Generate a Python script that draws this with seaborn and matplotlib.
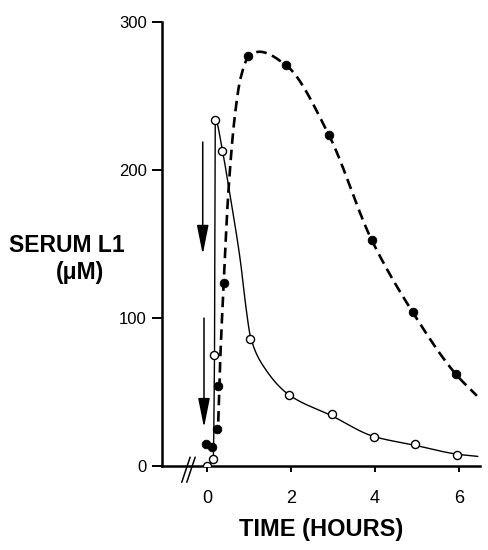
import numpy as np
import pandas as pd
import matplotlib
matplotlib.use("Agg")
import matplotlib.pyplot as plt
import seaborn as sns

# ---- data ----
open_time = [0.0, 0.15, 0.18, 0.20, 0.37, 1.03, 1.96, 2.97, 3.97, 4.96, 5.96]
open_val = [0, 5, 75, 234, 213, 86, 48, 35, 19.5, 15, 7.5]

filled_time = [-0.02, 0.13, 0.23, 0.26, 0.40, 0.98, 1.88, 2.90, 3.92, 4.90, 5.93]
filled_val = [15, 13, 25, 54, 124, 277, 271, 224, 153, 104, 62]

# fitted curves
solid_curve_t = [0.0, 0.15, 0.18, 0.20, 0.37, 0.55, 0.79, 0.94, 1.04, 1.38, 1.96, 2.97, 3.97, 4.96, 5.96, 6.45]
solid_curve_v = [0, 5, 75, 234, 213, 183, 140, 105, 87, 66, 48, 34, 20, 14, 8, 6.5]

dashed_curve_t = [0.27, 0.31, 0.40, 0.51, 0.67, 0.80, 0.98, 1.25, 1.88, 2.90, 3.92, 4.90, 5.93, 6.43]
dashed_curve_v = [30, 67, 124, 185, 238, 262, 276, 280, 271, 224, 153, 104, 62, 47.5]

x_ticks = [0, 2, 4, 6]
y_ticks = [0, 100, 200, 300]

# dosing arrows (x, start value, end value)
arrow_x = [-0.10, -0.07]
arrow_top = [219, 100]
arrow_tip = [143, 26]


def pchip(x, y, xn):
    x = np.asarray(x, float)
    y = np.asarray(y, float)
    h = np.diff(x)
    d = np.diff(y) / h
    n = len(x)
    m = np.zeros(n)
    for k in range(1, n - 1):
        if d[k - 1] * d[k] <= 0:
            m[k] = 0
        else:
            w1 = 2 * h[k] + h[k - 1]
            w2 = h[k] + 2 * h[k - 1]
            m[k] = (w1 + w2) / (w1 / d[k - 1] + w2 / d[k])
    m[0] = d[0]
    m[-1] = d[-1]
    idx = np.clip(np.searchsorted(x, xn) - 1, 0, n - 2)
    t = (xn - x[idx]) / h[idx]
    h00 = 2 * t**3 - 3 * t**2 + 1
    h10 = t**3 - 2 * t**2 + t
    h01 = -2 * t**3 + 3 * t**2
    h11 = t**3 - t**2
    return h00 * y[idx] + h10 * h[idx] * m[idx] + h01 * y[idx + 1] + h11 * h[idx] * m[idx + 1]


sns.set_style("ticks")
plt.rcParams["font.family"] = ["Liberation Sans", "DejaVu Sans"]
plt.rcParams["text.color"] = "black"
plt.rcParams["xtick.color"] = "black"
plt.rcParams["ytick.color"] = "black"
plt.rcParams["axes.labelcolor"] = "black"
plt.rcParams["axes.edgecolor"] = "black"

fig = plt.figure(figsize=(4.89, 5.5), dpi=100)
ax = fig.add_axes([0.3313, 0.1527, 0.650, 0.807])

ts = np.linspace(solid_curve_t[0], solid_curve_t[-1], 1500)
solid_df = pd.DataFrame({"t": ts, "v": pchip(solid_curve_t, solid_curve_v, ts)})
td = np.linspace(dashed_curve_t[0], dashed_curve_t[-1], 1500)
dashed_df = pd.DataFrame({"t": td, "v": pchip(dashed_curve_t, dashed_curve_v, td)})

sns.lineplot(data=solid_df, x="t", y="v", ax=ax, color="black", lw=1.0, sort=False)
sns.lineplot(data=dashed_df, x="t", y="v", ax=ax, color="black", lw=1.9, sort=False,
             dashes=False, linestyle=(0, (4, 2.2)))

sns.scatterplot(x=filled_time, y=filled_val, ax=ax, color="black", s=40,
                edgecolor="black", linewidth=0.5, zorder=5)
sns.scatterplot(x=open_time, y=open_val, ax=ax, facecolor="white", s=34,
                edgecolor="black", linewidth=1.0, zorder=6)

for xa, y0, y1 in zip(arrow_x, arrow_top, arrow_tip):
    ax.annotate("", xy=(xa, y1), xytext=(xa, y0),
                arrowprops=dict(arrowstyle="-|>,head_length=1.5,head_width=0.3",
                                mutation_scale=12, color="black", lw=1.1,
                                shrinkA=0, shrinkB=0))

# axis break marks
for x0, x1 in [(-0.60, -0.40), (-0.48, -0.28)]:
    ax.plot([x0, x1], [-11, 6], color="black", lw=1.1, clip_on=False)

ax.set_xlim(-1.07, 6.5)
ax.set_ylim(0, 300)
ax.set_xticks(x_ticks)
ax.set_yticks(y_ticks)
ax.set_xticklabels([str(v) for v in x_ticks], fontsize=13)
ax.set_yticklabels([str(v) for v in y_ticks], fontsize=12)
ax.tick_params(axis="y", length=7, width=1.4, pad=4, direction="out", colors="black")
ax.tick_params(axis="x", length=4, width=1.4, pad=13, direction="out", colors="black")
sns.despine(ax=ax)
for s in ["left", "bottom"]:
    ax.spines[s].set_linewidth(1.8)
    ax.spines[s].set_color("black")
ax.set_xlabel("TIME (HOURS)", fontsize=17, fontweight="bold", labelpad=8, color="black")
ax.set_ylabel("")

fig.text(67 / 489, 1 - 245 / 550, "SERUM L1", fontsize=16.5, fontweight="bold",
         ha="center", va="center", color="black")
fig.text(80 / 489, 1 - 273 / 550, "(\u03bcM)", fontsize=16.5, fontweight="bold",
         ha="center", va="center", color="black")

fig.savefig("out.png", dpi=100)
